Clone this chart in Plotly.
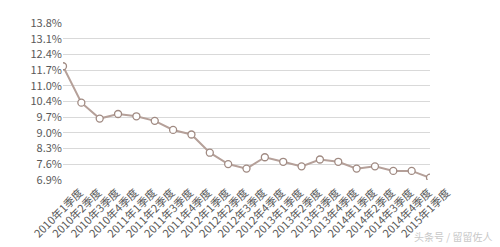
import plotly.graph_objects as go

categories = [
    "2010年1季度", "2010年2季度", "2010年3季度", "2010年4季度",
    "2011年1季度", "2011年2季度", "2011年3季度", "2011年4季度",
    "2012年1季度", "2012年2季度", "2012年3季度", "2012年4季度",
    "2013年1季度", "2013年2季度", "2013年3季度", "2013年4季度",
    "2014年1季度", "2014年2季度", "2014年3季度", "2014年4季度",
    "2015年1季度",
]
values = [11.9, 10.3, 9.6, 9.8, 9.7, 9.5, 9.1, 8.9, 8.1, 7.6, 7.4, 7.9,
          7.7, 7.5, 7.8, 7.7, 7.4, 7.5, 7.3, 7.3, 7.0]
ytick_vals = [6.9 + 0.69 * i for i in range(11)]
ytick_text = ["6.9%", "7.6%", "8.3%", "9.0%", "9.7%", "10.4%", "11.0%",
              "11.7%", "12.4%", "13.1%", "13.8%"]

fig = go.Figure()
fig.add_trace(go.Scatter(
    x=list(range(len(categories))), y=values, mode="lines+markers",
    line=dict(color="#b5a099", width=2),
    marker=dict(symbol="circle", size=7, color="white",
                line=dict(color="#a08a82", width=1.3)),
))
fig.update_layout(
    width=500, height=247,
    margin=dict(l=63, r=70, t=23, b=67),
    paper_bgcolor="white", plot_bgcolor="white",
    showlegend=False,
    font=dict(family="Noto Sans CJK SC", size=11, color="#595959"),
    xaxis=dict(
        range=[0, len(categories) - 1],
        tickmode="array", tickvals=list(range(len(categories))),
        ticktext=categories, tickangle=-45,
        showgrid=False, zeroline=False, showline=False,
        automargin=False,
        ticklabelshift=17, ticklabelstandoff=3,
        tickfont=dict(size=11, color="#595959"),
    ),
    yaxis=dict(
        range=[6.9, 13.8],
        tickmode="array", tickvals=ytick_vals, ticktext=ytick_text,
        showgrid=True, gridcolor="#d9d9d9", gridwidth=1,
        zeroline=False, showline=False, automargin=False,
        tickfont=dict(size=11, color="#595959"),
        ticks="", ticklen=0,
    ),
    annotations=[dict(
        x=(494 - 63) / (500 - 63 - 70), y=(247 - 67 - 236) / (247 - 23 - 67),
        xref="paper", yref="paper", text="头条号 / 留留佐人",
        showarrow=False, xanchor="right", yanchor="middle",
        font=dict(size=10, color="#c8c8c8"),
    )],
)
fig.write_html("out.html")
